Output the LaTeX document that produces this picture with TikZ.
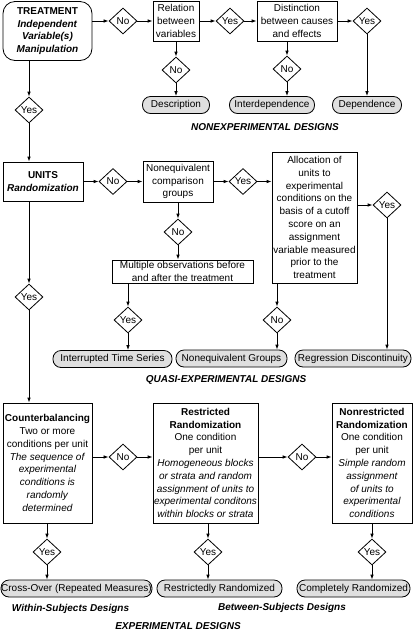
\documentclass[tikz,border=0pt]{standalone}
\usepackage{fontspec}
\setmainfont{Liberation Sans}
\usetikzlibrary{shapes.geometric,arrows.meta}
\begin{document}
\begin{tikzpicture}[x=1pt,y=-1pt,
  every node/.style={font=\fontsize{10}{12.8}\selectfont},
  dia/.style={draw,diamond,inner sep=0pt,minimum width=28pt,minimum height=26pt},
  box/.style={draw,rectangle,align=center,inner sep=0pt},
  term/.style={draw,rectangle,rounded corners=8pt,fill=gray!25,inner sep=0pt,minimum height=17pt},
  lbl/.style={font=\fontsize{10}{12.8}\selectfont\bfseries\itshape},
  arr/.style={-{Latex[length=5pt,width=3.6pt]}},
  line width=0.8pt]
\useasboundingbox (0,0) rectangle (414,633);
% --- top row
\node[box,rounded corners=12pt,minimum width=89pt,minimum height=59pt] (treat) at (47.5,31) {\textbf{TREATMENT}\\\textbf{\textit{Independent}}\\\textbf{\textit{Variable(s)}}\\\textbf{\textit{Manipulation}}};
\node[dia] (no1) at (123,21) {No};
\node[box,minimum width=46pt,minimum height=40pt] (rel) at (176,21) {Relation\\between\\variables};
\node[dia] (no2) at (176,70) {No};
\node[term,minimum width=67pt] (desc) at (176,105) {Description};
\node[dia] (yes1) at (230,21) {Yes};
\node[box,minimum width=80pt,minimum height=40pt] (dist) at (297,21) {Distinction\\between causes\\and effects};
\node[dia] (no3) at (287,69) {No};
\node[term,minimum width=85pt] (inter) at (272,105) {Interdependence};
\node[dia] (yes2) at (367,21) {Yes};
\node[term,minimum width=69pt] (dep) at (367,105) {Dependence};
\node[lbl] (nonexp) at (265,127) {NONEXPERIMENTAL DESIGNS};
% --- middle
\node[dia] (yes3) at (29,110) {Yes};
\node[box,minimum width=80pt,minimum height=39pt] (units) at (43,181.5) {\textbf{UNITS}\\\textbf{\textit{Randomization}}};
\node[dia] (no4) at (113,181.5) {No};
\node[box,minimum width=70pt,minimum height=41pt] (noneq) at (178,181.5) {Nonequivalent\\comparison\\groups};
\node[dia] (no5) at (178,232) {No};
\node[box,minimum width=141pt,minimum height=23pt] (mult) at (182.5,271.5) {Multiple observations before\\and after the treatment};
\node[dia] (yes4) at (243,181.5) {Yes};
\node[box,minimum width=85pt,minimum height=131pt] (alloc) at (314.5,217.5) {Allocation of\\units to\\experimental\\conditions on the\\basis of a cutoff\\score on an\\assignment\\variable measured\\prior to the\\treatment};
\node[dia] (yes5) at (387,205) {Yes};
\node[dia] (yes6) at (128,320) {Yes};
\node[term,minimum width=119pt] (its) at (112.5,359) {Interrupted Time Series};
\node[dia] (no6) at (277,320) {No};
\node[term,minimum width=111pt] (neg) at (231.5,358.5) {Nonequivalent Groups};
\node[term,minimum width=116pt] (reg) at (353,358.5) {Regression Discontinuity};
\node[lbl] (quasi) at (226,380) {QUASI-EXPERIMENTAL DESIGNS};
% --- bottom
\node[dia] (yes7) at (29,297) {Yes};
\node[box,minimum width=89pt,minimum height=120pt] (cb) at (47.5,463) {\textbf{Counterbalancing}\\Two or more\\conditions per unit\\\textit{The sequence of}\\\textit{experimental}\\\textit{conditions is}\\\textit{randomly}\\\textit{determined}};
\node[dia] (no7) at (123,457) {No};
\node[box,minimum width=105pt,minimum height=120pt] (rr) at (205.5,463) {\textbf{Restricted}\\\textbf{Randomization}\\One condition\\per unit\\\textit{Homogeneous blocks}\\\textit{or strata and random}\\\textit{assignment of units to}\\\textit{experimental conditons}\\\textit{within blocks or strata}};
\node[dia] (no8) at (302,457) {No};
\node[box,minimum width=80pt,minimum height=120pt] (nr) at (372,463) {\textbf{Nonrestricted}\\\textbf{Randomization}\\One condition\\per unit\\\textit{Simple random}\\\textit{assignment}\\\textit{of units to}\\\textit{experimental}\\\textit{conditions}};
\node[dia] (yes8) at (47,552) {Yes};
\node[dia] (yes9) at (208,552) {Yes};
\node[dia] (yes10) at (372,552) {Yes};
\node[term,minimum width=151pt] (co) at (76.5,588.5) {Cross-Over (Repeated Measures)};
\node[term,minimum width=125pt] (rrz) at (219.5,588.5) {Restrictedly Randomized};
\node[term,minimum width=113pt] (cr) at (353.5,588.5) {Completely Randomized};
\node[lbl] (within) at (70.5,609) {Within-Subjects Designs};
\node[lbl] (between) at (282,608) {Between-Subjects Designs};
\node[lbl] (exp) at (178,626.5) {EXPERIMENTAL DESIGNS};
% --- connectors
\draw[arr] (treat.east |- no1) -- (no1);
\draw[arr] (no1) -- (rel);
\draw[arr] (rel) -- (yes1);
\draw[arr] (yes1) -- (dist);
\draw[arr] (dist) -- (yes2);
\draw[arr] (yes2) -- (dep);
\draw[arr] (rel) -- (no2);
\draw[arr] (no2) -- (desc);
\draw[arr] (no3 |- dist.south) -- (no3);
\draw[arr] (no3) -- (no3 |- inter.north);
\draw[arr] (yes3 |- treat.south) -- (yes3);
\draw[arr] (yes3) -- (yes3 |- units.north);
\draw[arr] (units) -- (no4);
\draw[arr] (no4) -- (noneq);
\draw[arr] (noneq) -- (yes4);
\draw[arr] (yes4) -- (yes4 -| alloc.west);
\draw[arr] (noneq) -- (no5);
\draw[arr] (no5) -- (no5 |- mult.north);
\draw[arr] (alloc.east |- yes5) -- (yes5);
\draw[arr] (yes5) -- (yes5 |- reg.north);
\draw[arr] (yes6 |- mult.south) -- (yes6);
\draw[arr] (yes6) -- (yes6 |- its.north);
\draw[arr] (no6 |- alloc.south) -- (no6);
\draw[arr] (no6) -- (no6 |- neg.north);
\draw[arr] (yes7 |- units.south) -- (yes7);
\draw[arr] (yes7) -- (yes7 |- cb.north);
\draw[arr] (cb.east |- no7) -- (no7);
\draw[arr] (no7) -- (no7 -| rr.west);
\draw[arr] (rr.east |- no8) -- (no8);
\draw[arr] (no8) -- (no8 -| nr.west);
\draw[arr] (yes8 |- cb.south) -- (yes8);
\draw[arr] (yes8) -- (yes8 |- co.north);
\draw[arr] (yes9 |- rr.south) -- (yes9);
\draw[arr] (yes9) -- (yes9 |- rrz.north);
\draw[arr] (yes10 |- nr.south) -- (yes10);
\draw[arr] (yes10) -- (yes10 |- cr.north);
\end{tikzpicture}
\end{document}
